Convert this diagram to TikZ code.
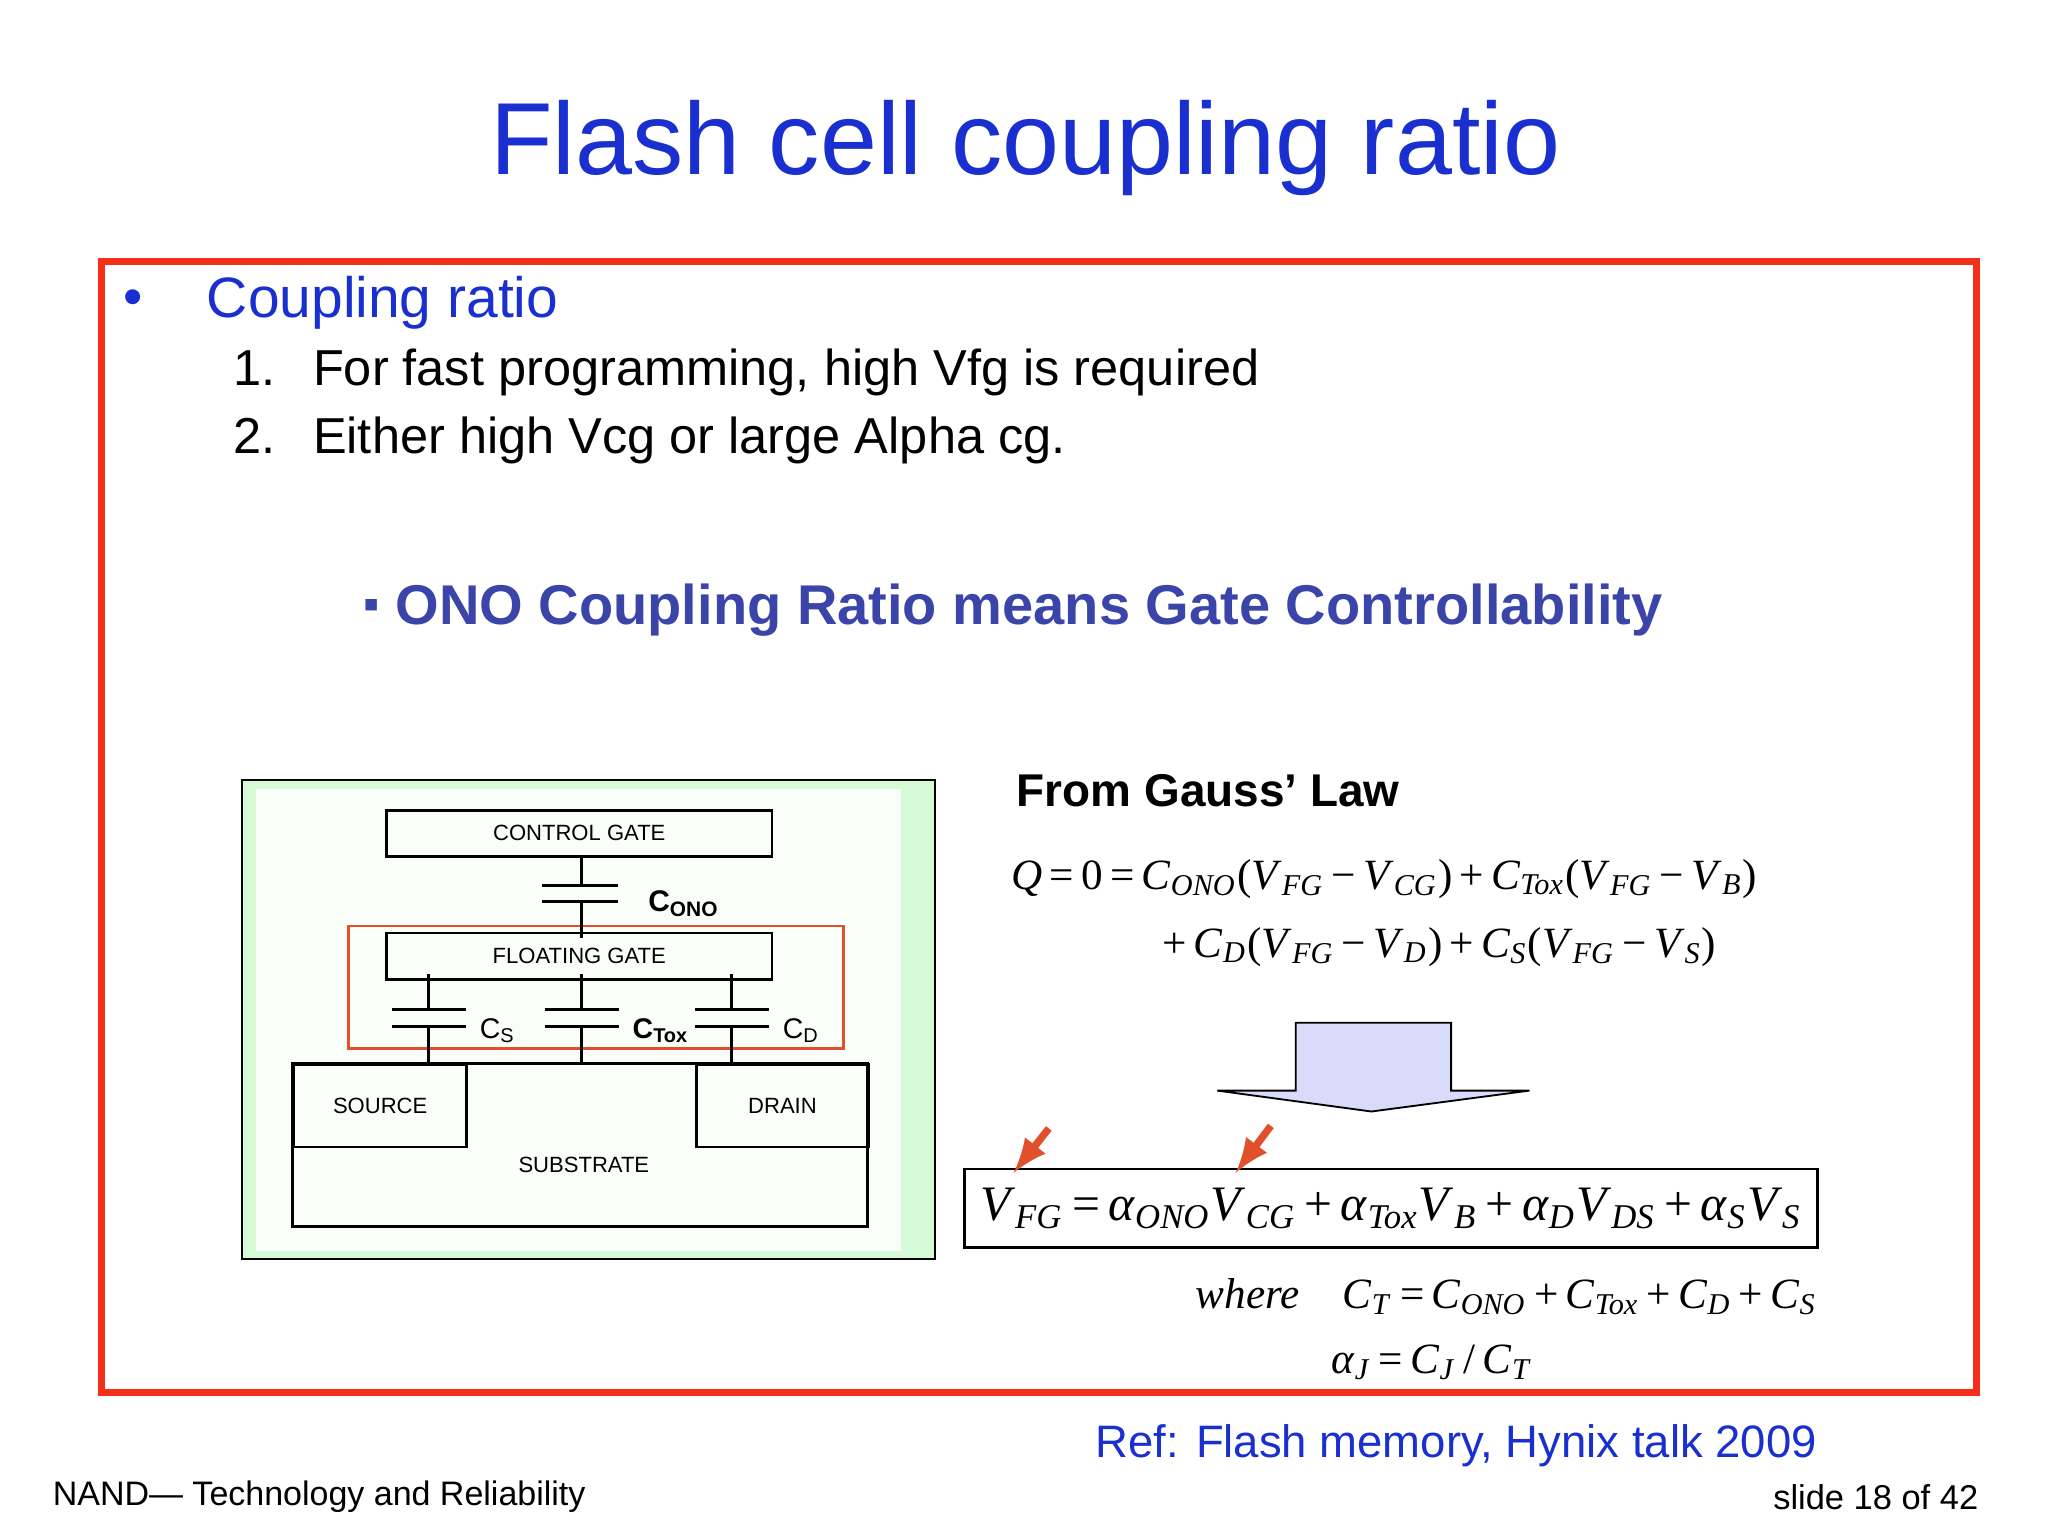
\documentclass[tikz,border=0pt]{standalone}
\usepackage{fontspec}
\setmainfont{Liberation Sans}
\newfontfamily\serifmath{Liberation Serif}
\usetikzlibrary{positioning}
\definecolor{titleblue}{HTML}{1A2FD0}
\definecolor{onoblue}{HTML}{3B44A8}
\definecolor{frame}{HTML}{F5301A}
\definecolor{boxorange}{HTML}{E0502A}
\definecolor{cellgreen}{HTML}{D6FAD6}
\definecolor{arrowfill}{HTML}{D8DCFA}
\newcommand{\vv}[2]{\textit{#1}\textsubscript{\textit{#2}}}
\newcommand{\mop}[1]{\,#1\,}
\tikzset{
  gatebox/.style={draw,semithick,font=\fontsize{4.8}{6}\selectfont},
  plate/.style={semithick},
  eq/.style={anchor=west,font=\serifmath\fontsize{9.4}{11}\selectfont},
  pointer/.style={boxorange,line width=1.6pt,-latex}
}
\begin{document}
\begin{tikzpicture}[x=0.01cm,y=-0.01cm]
	\useasboundingbox (0,0) rectangle (1568,1176);

	\node[titleblue,font=\fontsize{22.3}{26}\selectfont] (title) at (785,113) {Flash cell coupling ratio};
	\draw[frame,line width=1.5pt] (78,200) rectangle (1513,1066);

	\node[titleblue,font=\fontsize{12}{14}\selectfont] (dot) at (102,232) {•};
	\node[titleblue,anchor=west,font=\fontsize{12.4}{14}\selectfont] (head) at (146,232) {Coupling ratio};
	\node[anchor=west,font=\fontsize{11}{13}\selectfont] (one) at (166,285) {1.\hspace{0.75em}For fast programming, high Vfg is required};
	\node[anchor=west,font=\fontsize{11}{13}\selectfont] (two) at (166,337) {2.\hspace{0.75em}Either high Vcg or large Alpha cg.};

	\node[onoblue,anchor=west,font=\bfseries\fontsize{12.2}{14}\selectfont] (ono) at (266,467) {\fontsize{10}{12}\selectfont\raisebox{0.2ex}{▪}\fontsize{12.2}{14}\selectfont\ ONO Coupling Ratio means Gate Controllability};

	% cell cross section
	\draw[fill=cellgreen] (185,597) rectangle (716,964);
	\fill[white!85!cellgreen] (196,604) rectangle (690,958);
	\node[gatebox,minimum width=2.95cm,minimum height=0.3cm] (cg) at (443.5,638) {CONTROL GATE};
	\node[gatebox,minimum width=2.95cm,minimum height=0.28cm] (fg) at (443.5,732) {FLOATING GATE};
	\draw[boxorange,semithick] (267,709) rectangle (646,803);

	\draw[plate] (cg.south -| 445,0) -- (445,678) (415,678) -- (473,678)
	             (415,690) -- (473,690) (445,690) -- (445,718);
	\node[anchor=west,font=\bfseries\fontsize{6.5}{8}\selectfont] (cono) at (484,692) {C\textsubscript{ONO}};

	\foreach \cx/\lab in {328/{C\textsubscript{S}},445/{\textbf{C\textsubscript{Tox}}},560/{C\textsubscript{D}}}{
	  \draw[plate] (\cx,746) -- (\cx,773) (\cx-28,773) -- (\cx+29,773)
	               (\cx-28,786) -- (\cx+29,786) (\cx,786) -- (\cx,814);
	  \node[anchor=west,font=\fontsize{6.2}{8}\selectfont] at (\cx+27,789) {\lab};
	}

	\draw[semithick] (224,814) rectangle (664,939);
	\node[gatebox,anchor=north west,minimum width=1.32cm,minimum height=0.63cm] (src) at (224,814) {SOURCE};
	\node[gatebox,anchor=north west,minimum width=1.32cm,minimum height=0.63cm] (drn) at (532,814) {DRAIN};
	\node[font=\fontsize{4.8}{6}\selectfont] (sub) at (447,892) {SUBSTRATE};

	% equations
	\node[anchor=west,font=\bfseries\fontsize{10}{12}\selectfont] (gauss) at (766,605) {From Gauss' Law};
	\node[eq] (eqa) at (762,673) {\textit{Q}\mop{=}0\mop{=}\vv{C}{ONO}(\vv{V}{FG}\mop{−}\vv{V}{CG})\mop{+}\vv{C}{Tox}(\vv{V}{FG}\mop{−}\vv{V}{B})};
	\node[eq] (eqb) at (872,725) {\mop{+}\vv{C}{D}(\vv{V}{FG}\mop{−}\vv{V}{D})\mop{+}\vv{C}{S}(\vv{V}{FG}\mop{−}\vv{V}{S})};

	\draw[fill=arrowfill] (992,783) -- (1111,783) -- (1111,835) -- (1171,835)
	      -- (1050,851) -- (932,835) -- (992,835) -- cycle;

	\node[draw,semithick,minimum width=6.24cm,minimum height=0.6cm,font=\serifmath\fontsize{10.8}{13}\selectfont] (vfg) at (1065,925)
	  {\vv{V}{FG}\mop{=}\vv{α}{ONO}\vv{V}{CG}\mop{+}\vv{α}{Tox}\vv{V}{B}\mop{+}\vv{α}{D}\vv{V}{DS}\mop{+}\vv{α}{S}\vv{V}{S}};
	\coordinate (p1) at (803,864);
	\coordinate (p2) at (973,862);
	\draw[pointer] (p1) -- (776,898);
	\draw[pointer] (p2) -- (946,898);

	\node[eq] (ct) at (903,993) {\textit{where}\quad \vv{C}{T}\mop{=}\vv{C}{ONO}\mop{+}\vv{C}{Tox}\mop{+}\vv{C}{D}\mop{+}\vv{C}{S}};
	\node[eq] (aj) at (1007,1043) {\vv{α}{J}\mop{=}\vv{C}{J}\,/\,\vv{C}{T}};

	\node[titleblue,font=\fontsize{9.9}{12}\selectfont] (ref) at (1115,1107) {Ref: Flash memory, Hynix talk 2009};
	\node[anchor=west,font=\fontsize{7.4}{9}\selectfont] (foot) at (28,1146) {NAND— Technology and Reliability};
	\node[anchor=east,font=\fontsize{7.5}{9}\selectfont] (slide) at (1527,1146) {slide 18 of 42};
\end{tikzpicture}
\end{document}
